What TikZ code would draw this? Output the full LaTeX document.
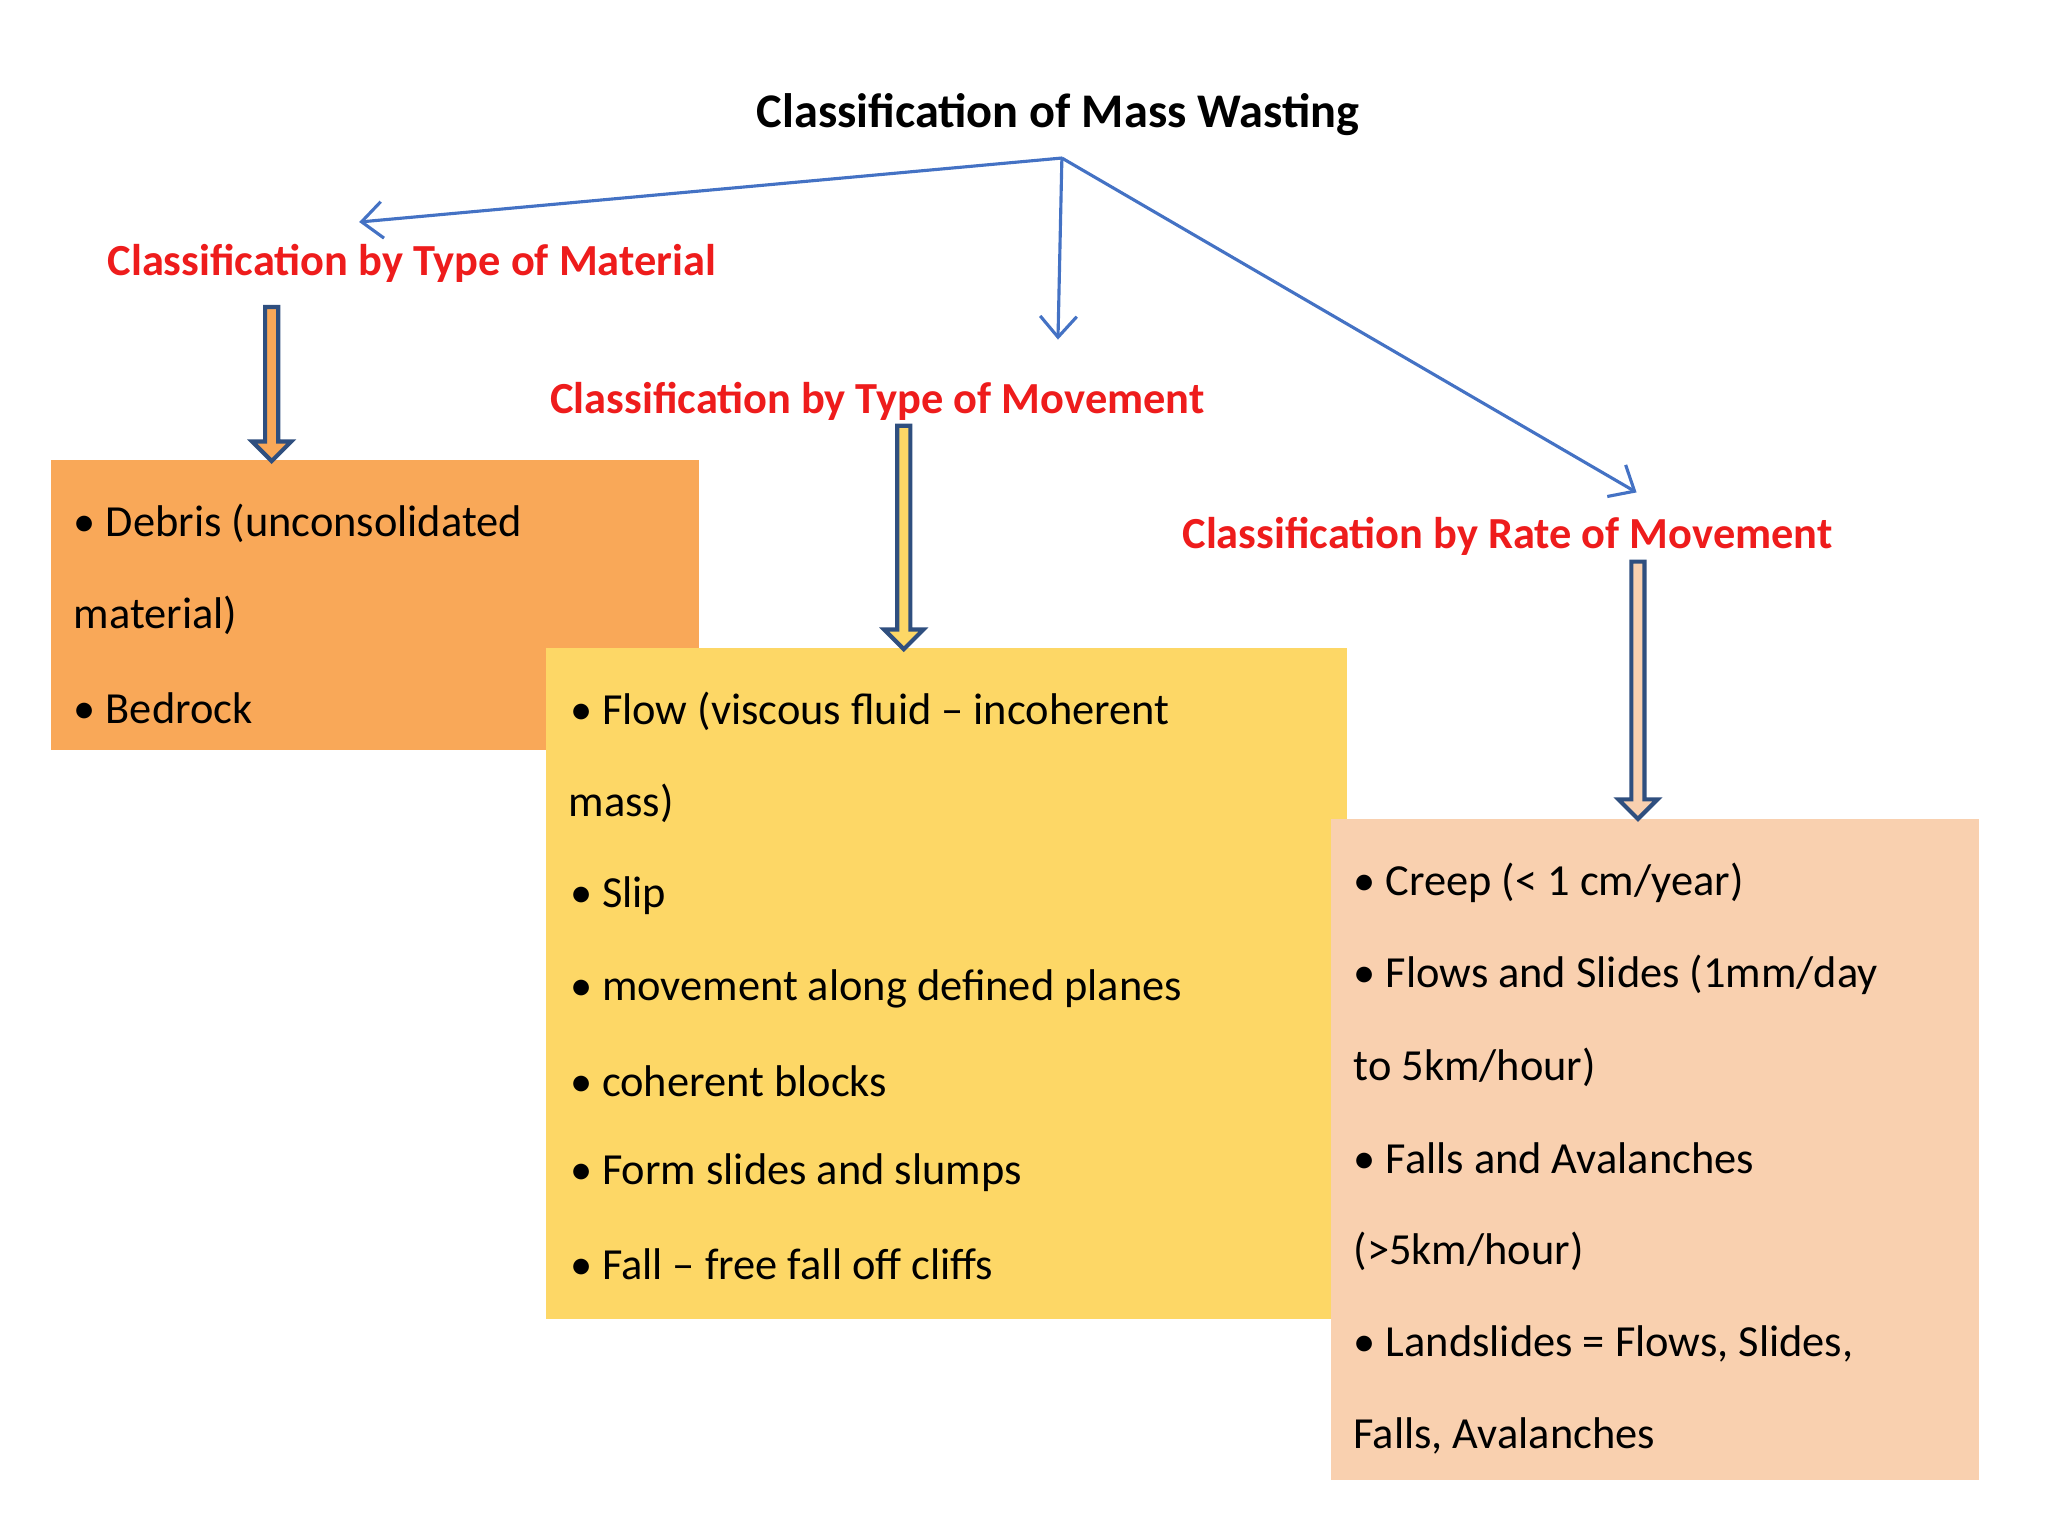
\documentclass[tikz,border=0pt]{standalone}
\usepackage{fontspec}
\setmainfont{Carlito}
\usetikzlibrary{arrows.meta}
\definecolor{lineblue}{HTML}{4472C4}
\definecolor{darkblue}{HTML}{2F4F7F}
\definecolor{cOrange}{HTML}{F9A858}
\definecolor{cYellow}{HTML}{FDD766}
\definecolor{cPeach}{HTML}{F9D0AF}
\definecolor{hred}{HTML}{EE1C1C}
\tikzset{
  thin arrow/.style={draw=lineblue, line width=1.2pt, -{Straight Barb[length=8pt,width=14pt]}},
  head/.style={anchor=west, text=hred, font=\bfseries\fontsize{17}{20}\selectfont, inner sep=0},
  body/.style={anchor=west, font=\fontsize{17}{20}\selectfont, inner sep=0},
}
\newcommand{\blockarrow}[4]{% x, ytop, ybot, fill
  \filldraw[fill=#4, draw=darkblue, line width=1.6pt]
   (#1-5,-#2) -- (#1+5,-#2) -- (#1+5,-#3+15) -- (#1+15,-#3+15) -- (#1,-#3) -- (#1-15,-#3+15) -- (#1-5,-#3+15) -- cycle;}
\begin{document}
\begin{tikzpicture}[x=0.5pt,y=0.5pt]
\useasboundingbox (0,0) rectangle (1568,-1176);
\fill[cOrange] (39,-352) rectangle (535,-574);
\fill[cYellow] (418,-496) rectangle (1031,-1010);
\fill[cPeach] (1019,-627) rectangle (1515,-1133);

\node[font=\bfseries\fontsize{18.5}{22}\selectfont, inner sep=0] (title) at (810,-88) {Classification of Mass Wasting};
\coordinate (top) at (813,-121);
\coordinate (e1) at (275,-170);
\coordinate (e2) at (810,-260);
\coordinate (e3) at (1253,-377);
\draw[thin arrow] (top) -- (e1);
\draw[thin arrow] (top) -- (e2);
\draw[thin arrow] (top) -- (e3);

\node[head] (h1) at (82,-202) {Classification by Type of Material};
\node[head] (h2) at (421,-307) {Classification by Type of Movement};
\node[head] (h3) at (905,-411) {Classification by Rate of Movement};

\blockarrow{208}{235}{353}{cOrange}
\blockarrow{692}{326}{497}{cYellow}
\blockarrow{1254}{430}{627}{cPeach}

\node[body] (a1) at (56,-401) {• Debris (unconsolidated};
\node[body] (a2) at (56,-471) {material)};
\node[body] (a3) at (56,-542) {• Bedrock};

\node[body] (b1) at (436,-545) {• Flow (viscous fluid – incoherent};
\node[body] (b2) at (435,-615) {mass)};
\node[body] (b3) at (436,-686) {• Slip};
\node[body] (b4) at (436,-757) {• movement along defined planes};
\node[body] (b5) at (436,-828) {• coherent blocks};
\node[body] (b6) at (436,-898) {• Form slides and slumps};
\node[body] (b7) at (436,-968) {• Fall – free fall off cliffs};

\node[body] (c1) at (1036,-676) {• Creep (< 1 cm/year)};
\node[body] (c2) at (1036,-746) {• Flows and Slides (1mm/day};
\node[body] (c3) at (1036,-817) {to 5km/hour)};
\node[body] (c4) at (1036,-887) {• Falls and Avalanches};
\node[body] (c5) at (1036,-958) {(>5km/hour)};
\node[body] (c6) at (1036,-1029) {• Landslides = Flows, Slides,};
\node[body] (c7) at (1036,-1099) {Falls, Avalanches};
\end{tikzpicture}
\end{document}
